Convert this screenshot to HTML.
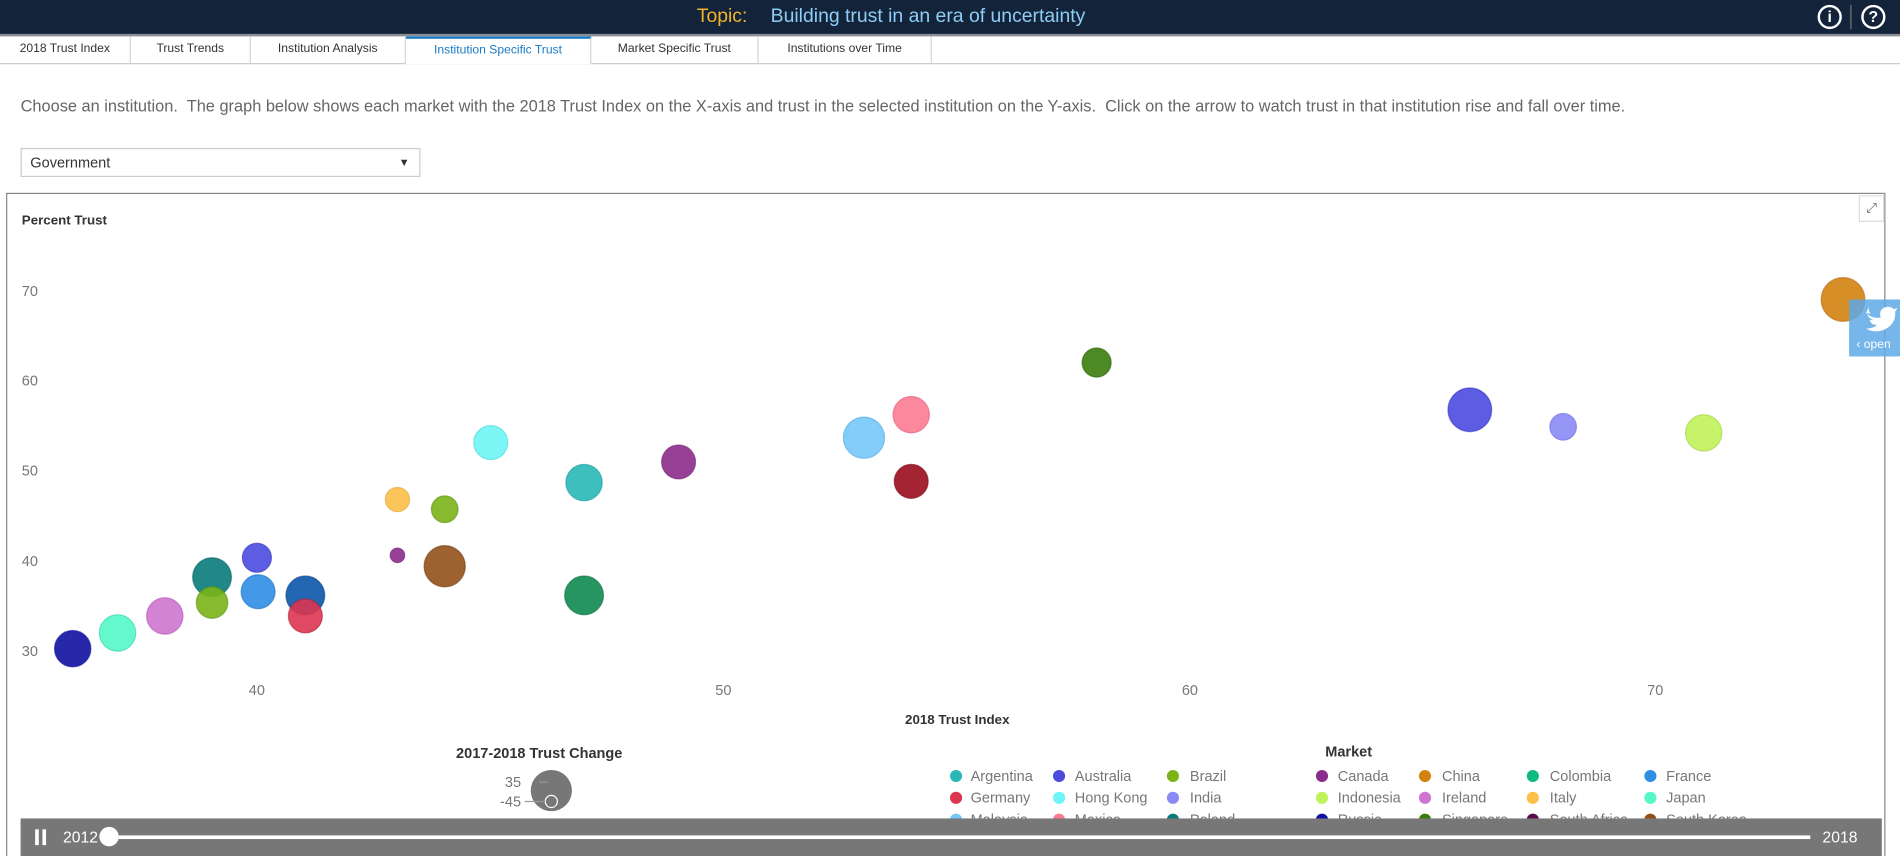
<!DOCTYPE html>
<html><head><meta charset="utf-8"><style>
html,body{margin:0;padding:0;width:1900px;height:856px;overflow:hidden;background:#fff;font-family:"Liberation Sans",sans-serif;}
#s{position:absolute;left:0;top:0;width:1568px;height:706px;transform:scale(1.21173,1.2125);transform-origin:0 0;overflow:hidden;}
.a{position:absolute;}
.tab{position:absolute;top:30px;height:22px;line-height:22px;font-size:10px;color:#333;text-align:center;border-right:1px solid #d4d4d4;box-sizing:border-box;}
</style></head><body><div id="s">
<div class="a" style="left:0;top:0;width:1568px;height:28px;background:#13233a;"></div>
<div class="a" style="left:0;top:28px;width:1568px;height:2px;background:#8a8f96;"></div>
<div class="a" style="left:575px;top:5px;font-size:16px;color:#f0b429;">Topic:</div>
<div class="a" style="left:636px;top:5px;font-size:16px;color:#8ecdf5;">Building trust in an era of uncertainty</div>
<div class="a" style="left:1500px;top:4px;width:16px;height:16px;border:2px solid #fff;border-radius:50%;color:#fff;font-size:13px;font-weight:bold;text-align:center;line-height:16px;">i</div>
<div class="a" style="left:1527px;top:4px;width:1px;height:20px;background:#777;"></div>
<div class="a" style="left:1536px;top:4px;width:16px;height:16px;border:2px solid #fff;border-radius:50%;color:#fff;font-size:13px;font-weight:bold;text-align:center;line-height:16px;">?</div>
<div class="a" style="left:0;top:52px;width:1568px;height:1px;background:#ccc;"></div>
<div class="tab" style="left:0;width:108px;">2018 Trust Index</div>
<div class="tab" style="left:108px;width:99px;">Trust Trends</div>
<div class="tab" style="left:207px;width:128px;">Institution Analysis</div>
<div class="tab" style="left:335px;width:153px;color:#1a7bc4;border-top:2px solid #1a7bc4;background:#fff;height:23px;line-height:20px;">Institution Specific Trust</div>
<div class="tab" style="left:488px;width:138px;">Market Specific Trust</div>
<div class="tab" style="left:626px;width:143px;">Institutions over Time</div>
<div class="a" style="left:17px;top:80px;font-size:13.5px;color:#666;white-space:nowrap;">Choose an institution.&nbsp; The graph below shows each market with the 2018 Trust Index on the X-axis and trust in the selected institution on the Y-axis.&nbsp; Click on the arrow to watch trust in that institution rise and fall over time.</div>
<div class="a" style="left:17px;top:122px;width:328px;height:22px;border:1px solid #ccc;font-size:12px;color:#333;line-height:22px;"><span style="margin-left:7px;">Government</span><span style="position:absolute;right:8px;font-size:9px;">▼</span></div>
<div class="a" style="left:5px;top:159px;width:1549px;height:560px;border:1px solid #888;"></div>
<div class="a" style="left:1534px;top:161px;width:19px;height:20px;border:1px solid #ddd;color:#666;font-size:11px;text-align:center;line-height:20px;">⤢</div>
<svg class="a" style="left:0;top:0;" width="1568" height="706" font-family="Liberation Sans, sans-serif">
<text x="18" y="185" font-size="11" fill="#333" font-weight="bold">Percent Trust</text>
<g font-size="12" fill="#777">
<text x="18" y="244">70</text><text x="18" y="318">60</text><text x="18" y="392">50</text><text x="18" y="467">40</text><text x="18" y="541">30</text>
<text x="212" y="573" text-anchor="middle">40</text><text x="597" y="573" text-anchor="middle">50</text><text x="982" y="573" text-anchor="middle">60</text><text x="1366" y="573" text-anchor="middle">70</text>
</g>
<text x="790" y="597" font-size="11" fill="#333" text-anchor="middle" font-weight="bold">2018 Trust Index</text>
<g fill-opacity="0.9" stroke-opacity="0.6" stroke-width="1">
<circle cx="60" cy="535" r="15" fill="#1010a0" stroke="#1010a0"/>
<circle cx="97" cy="522" r="15" fill="#55f7c8" stroke="#2ad4a8"/>
<circle cx="136" cy="508" r="15" fill="#cf74cf" stroke="#b050b0"/>
<circle cx="175" cy="476" r="16" fill="#0a7a7a" stroke="#066"/>
<circle cx="175" cy="497" r="13" fill="#7ab317" stroke="#5a9010"/>
<circle cx="212" cy="460" r="12" fill="#4b4be0" stroke="#3030c0"/>
<circle cx="213" cy="488" r="14" fill="#2f8de4" stroke="#1a70c0"/>
<circle cx="252" cy="491" r="16" fill="#0b55a8" stroke="#084080"/>
<circle cx="252" cy="508" r="14" fill="#dc3550" stroke="#b02035"/>
<circle cx="328" cy="458" r="6" fill="#8b2c8b" stroke="#702070"/>
<circle cx="328" cy="412" r="10" fill="#fcbf47" stroke="#e0a030"/>
<circle cx="367" cy="420" r="11" fill="#7ab317" stroke="#5a9010"/>
<circle cx="367" cy="467" r="17" fill="#94501a" stroke="#703a10"/>
<circle cx="405" cy="365" r="14" fill="#6ff5f5" stroke="#40d8d8"/>
<circle cx="482" cy="398" r="15" fill="#2ab7b7" stroke="#1a9a9a"/>
<circle cx="482" cy="491" r="16" fill="#0e8a50" stroke="#086a3a"/>
<circle cx="560" cy="381" r="14" fill="#8b2c8b" stroke="#702070"/>
<circle cx="713" cy="361" r="17" fill="#74c8f8" stroke="#50a8e0"/>
<circle cx="752" cy="342" r="15" fill="#fb7b92" stroke="#e05a75"/>
<circle cx="752" cy="397" r="14" fill="#9a0c1e" stroke="#780815"/>
<circle cx="905" cy="299" r="12" fill="#3b7d0b" stroke="#2a6005"/>
<circle cx="1213" cy="338" r="18" fill="#4b4be0" stroke="#3030c0"/>
<circle cx="1290" cy="352" r="11" fill="#8a8af5" stroke="#6a6ae0"/>
<circle cx="1406" cy="357" r="15" fill="#c0f25a" stroke="#a0d040"/>
<circle cx="1521" cy="247" r="18" fill="#d4820f" stroke="#b0680a"/>
</g>
<text x="445" y="625" font-size="12" fill="#333" text-anchor="middle" font-weight="bold">2017-2018 Trust Change</text>
<circle cx="455" cy="652" r="17" fill="#777"/>
<circle cx="455" cy="661" r="5" fill="#777" stroke="#fff"/>
<line x1="445" y1="645" x2="452" y2="645" stroke="#999"/><line x1="433" y1="661" x2="450" y2="661" stroke="#999"/>
<text x="430" y="649" font-size="12" fill="#777" text-anchor="end">35</text>
<text x="430" y="665" font-size="12" fill="#777" text-anchor="end">-45</text>
<text x="1113" y="624" font-size="12" fill="#333" text-anchor="middle" font-weight="bold">Market</text>
<g font-size="12" fill="#777">
<circle cx="789" cy="640" r="5" fill="#2ab7b7"/><text x="801" y="644">Argentina</text>
<circle cx="874" cy="640" r="5" fill="#4b4be0"/><text x="887" y="644">Australia</text>
<circle cx="968" cy="640" r="5" fill="#7ab317"/><text x="982" y="644">Brazil</text>
<circle cx="1091" cy="640" r="5" fill="#8b2c8b"/><text x="1104" y="644">Canada</text>
<circle cx="1176" cy="640" r="5" fill="#d4820f"/><text x="1190" y="644">China</text>
<circle cx="1265" cy="640" r="5" fill="#0fba80"/><text x="1279" y="644">Colombia</text>
<circle cx="1362" cy="640" r="5" fill="#2f8de4"/><text x="1375" y="644">France</text>
<circle cx="789" cy="658" r="5" fill="#dc3550"/><text x="801" y="662">Germany</text>
<circle cx="874" cy="658" r="5" fill="#6ff5f5"/><text x="887" y="662">Hong Kong</text>
<circle cx="968" cy="658" r="5" fill="#8a8af5"/><text x="982" y="662">India</text>
<circle cx="1091" cy="658" r="5" fill="#c0f25a"/><text x="1104" y="662">Indonesia</text>
<circle cx="1176" cy="658" r="5" fill="#cf74cf"/><text x="1190" y="662">Ireland</text>
<circle cx="1265" cy="658" r="5" fill="#fcbf47"/><text x="1279" y="662">Italy</text>
<circle cx="1362" cy="658" r="5" fill="#55f7c8"/><text x="1375" y="662">Japan</text>
<circle cx="789" cy="676" r="5" fill="#74c8f8"/><text x="801" y="680">Malaysia</text>
<circle cx="874" cy="676" r="5" fill="#fb7b92"/><text x="887" y="680">Mexico</text>
<circle cx="968" cy="676" r="5" fill="#0a7a7a"/><text x="982" y="680">Poland</text>
<circle cx="1091" cy="676" r="5" fill="#1010a0"/><text x="1104" y="680">Russia</text>
<circle cx="1176" cy="676" r="5" fill="#3b7d0b"/><text x="1190" y="680">Singapore</text>
<circle cx="1265" cy="676" r="5" fill="#5a0a4a"/><text x="1279" y="680">South Africa</text>
<circle cx="1362" cy="676" r="5" fill="#94501a"/><text x="1375" y="680">South Korea</text>
</g>
<rect x="17" y="675" width="1536" height="31" fill="#777"/>
<rect x="29" y="684" width="3" height="13" fill="#fff"/><rect x="35" y="684" width="3" height="13" fill="#fff"/>
<text x="52" y="695" font-size="13" fill="#fff">2012</text>
<rect x="90" y="689" width="1404" height="3" fill="#fff"/>
<circle cx="90" cy="690" r="8" fill="#fff"/>
<text x="1504" y="695" font-size="13" fill="#fff">2018</text>
<rect x="1526" y="247" width="42" height="47" fill="#5ea9e8" fill-opacity="0.85"/>
<path d="M1540 258 q5 5 12 4 q-2-8 6-9 q3 0 5 2 l3-1 -2 3 q1 10-9 15 q-8 3-15-1 q6 0 9-3 q-5 0-6-4 l3 0 q-5-2-5-6 l3 1 q-3-3-1-7z" fill="#fff"/>
<text x="1532" y="287" font-size="10" fill="#fff">‹ open</text>
</svg>
</div></body></html>
